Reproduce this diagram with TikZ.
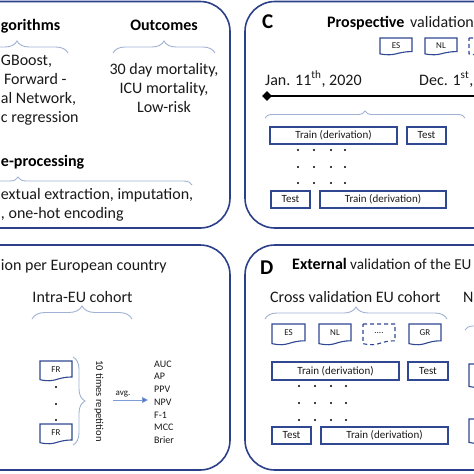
\documentclass[tikz,border=0pt]{standalone}
\usepackage{fontspec}
\setmainfont{Carlito}
\usetikzlibrary{decorations.pathreplacing,arrows.meta,shapes.geometric}
\definecolor{navy}{RGB}{44,64,138}
\definecolor{boxblue}{RGB}{47,72,145}
\definecolor{bracec}{RGB}{160,178,212}
\definecolor{arrowc}{RGB}{68,114,196}
\definecolor{txt}{RGB}{25,25,25}
\newcommand\mydoc[7]{%
 \pgfmathsetmacro\dxa{#3+#5}\pgfmathsetmacro\dyb{#4+0.8*#6}%
 \pgfmathsetmacro\dxm{#3+0.5*#5}\pgfmathsetmacro\dyc{#4+1.107*#6}%
 \pgfmathsetmacro\dyd{#4+0.934*#6}%
 \draw[#1] (#3,#4) -- (\dxa,#4) -- (\dxa,\dyb) .. controls (\dxm,\dyb) and (\dxm,\dyc) .. (#3,\dyd) -- cycle;
 \pgfmathsetmacro\dcy{#4+0.42*#6}%
 \node[doclabel] (#2) at (\dxm,\dcy) {#7};}
\begin{document}
\begin{tikzpicture}[x=1pt,y=-1pt,
  panel/.style={draw=navy,line width=1.6pt,rounded corners=30pt},
  cvbox/.style={draw=boxblue,line width=1.1pt,inner sep=0pt,text=txt,font=\fontsize{11}{13}\selectfont},
  docline/.style={draw=boxblue,line width=1.1pt},
  docdash/.style={draw=boxblue,line width=1.1pt,dash pattern=on 4pt off 3pt},
  doclabel/.style={inner sep=0pt,text=txt,font=\fontsize{9}{11}\selectfont},
  bigt/.style={inner sep=0pt,text=txt,font=\fontsize{16}{19}\selectfont},
  bigb/.style={inner sep=0pt,text=black,font=\fontsize{16}{19}\selectfont\bfseries},
  panelletter/.style={inner sep=0pt,text=black,font=\fontsize{21}{24}\selectfont\bfseries},
  metric/.style={inner sep=0pt,text=txt,font=\fontsize{10}{12}\selectfont,anchor=base west},
  bracest/.style={draw=bracec,line width=0.9pt,decorate,decoration={brace,amplitude=#1}},
  dotst/.style={fill=black}
]
\useasboundingbox (0,0) rectangle (474,474);
\fill[white] (0,0) rectangle (474,474);
\clip (0,0) rectangle (474,474);

% ---------------- Panel A (top left) ----------------
\draw[panel] (-100,1.5) rectangle (230,228);
\node[bigb,anchor=base west] (algt) at (0.8,30.5) {gorithms};
\draw[bracest=12pt] (-34,53) -- (68,53);
\node[bigt,anchor=base west] (al1) at (0.8,65) {GBoost,};
\node[bigt,anchor=base east] (al2) at (66.7,84) {Forward -};
\node[bigt,anchor=base west] (al3) at (0.8,103) {al Network,};
\node[bigt,anchor=base west] (al4) at (0.8,122) {c regression};
\node[bigb,anchor=base] (outt) at (164,30.5) {Outcomes};
\draw[bracest=12pt] (113,53) -- (215,53);
\node[bigt,anchor=base] (oc1) at (164,74) {30 day mortality,};
\node[bigt,anchor=base] (oc2) at (164,93) {ICU mortality,};
\node[bigt,anchor=base] (oc3) at (164,112) {Low-risk};
\node[bigb,anchor=base west] (pret) at (0.8,166) {e-processing};
\draw[bracest=8pt] (-156,185) -- (192,185);
\node[bigt,anchor=base west] (pr1) at (0.8,199) {extual extraction, imputation,};
\node[bigt,anchor=base west] (pr2) at (0.8,218) {, one-hot encoding};

% ---------------- Panel C (top right) ----------------
\draw[panel] (245,1.5) rectangle (620,228);
\node[panelletter,anchor=base west] (cl) at (262,28.5) {C};
\node[bigb,anchor=base west] (cpro) at (327,27) {Prospective};
\node[bigt,anchor=base west] (cval) at (410,27) {validation};
\mydoc{docline}{ces}{380}{38}{32}{17}{ES}
\mydoc{docline}{cnl}{425}{38}{32}{17}{NL}
\mydoc{docdash}{cdd}{469}{38}{32}{17}{}
\node[bigt,anchor=base west] (jan) at (265,85) {Jan. 11\textsuperscript{th}, 2020};
\node[bigt,anchor=base west] (dec) at (419,85) {Dec. 1\textsuperscript{st},};
\node[diamond,fill=black,inner sep=0pt,minimum size=10pt] (tls) at (267,96) {};
\coordinate (tle) at (480,96);
\draw[line width=1.5pt] (tls.center) -- (tle);
\draw[bracest=7pt] (265,118) -- (465,118);
\node[cvbox,minimum width=127pt,minimum height=17pt] (ctr1) at (333.5,135.5) {Train (derivation)};
\node[cvbox,minimum width=39pt,minimum height=17pt] (cte1) at (426.5,135.5) {Test};
\foreach \xx in {298,314,331,345}{\foreach \yy in {150,167,183}{\fill[dotst] (\xx,\yy) circle (1.1pt);}}
\node[cvbox,minimum width=39pt,minimum height=17pt] (cte2) at (290.5,199.5) {Test};
\node[cvbox,minimum width=126pt,minimum height=17pt] (ctr2) at (383,199.5) {Train (derivation)};

% ---------------- Panel B (bottom left) ----------------
\draw[panel] (-100,245) rectangle (230,470);
\node[bigt,anchor=base west] (bt) at (0.8,270) {ion per European country};
\node[bigt,anchor=base] (intra) at (82.5,302) {Intra-EU cohort};
\draw[bracest=13pt] (32,319) -- (132,319);
\mydoc{docline}{fr1}{40}{361}{32}{20}{FR}
\mydoc{docline}{fr2}{40}{424}{32}{20}{FR}
\foreach \yy in {387,404,420}{\fill[dotst] (56,\yy) circle (1.1pt);}
\draw[bracest=12pt] (73,357) -- (73,445);
\node[inner sep=0pt,text=txt,font=\fontsize{10.5}{12}\selectfont,rotate=-90] (rep) at (99,401) {10 times repetition};
\node[inner sep=0pt,text=txt,font=\fontsize{9}{11}\selectfont] (avg) at (123,394) {avg.};
\coordinate (arrs) at (113,400);
\coordinate (arre) at (148,400);
\draw[draw=arrowc!70,line width=0.8pt,-{Triangle[length=6pt,width=6pt,fill=arrowc]}] (arrs) -- (arre);
\node[metric] (m1) at (154,367) {AUC};
\node[metric] (m2) at (154,379.8) {AP};
\node[metric] (m3) at (154,392.5) {PPV};
\node[metric] (m4) at (154,405.3) {NPV};
\node[metric] (m5) at (154,418) {F-1};
\node[metric] (m6) at (154,430.8) {MCC};
\node[metric] (m7) at (154,443.5) {Brier};

% ---------------- Panel D (bottom right) ----------------
\draw[panel] (245,245) rectangle (620,470);
\node[panelletter,anchor=base west] (dl) at (260,274) {D};
\node[bigb,anchor=base west] (dext) at (292,269) {External};
\node[inner sep=0pt,text=txt,font=\fontsize{15.2}{18}\selectfont,anchor=base west] (dval) at (350,269) {validation of the EU};
\node[bigt,anchor=base west] (nonEU) at (463,302) {N};
\node[bigt,anchor=base west] (cross) at (270,302) {Cross validation EU cohort};
\draw[bracest=12pt] (265,319) -- (447,319);
\draw[bracest=8pt] (465,330) -- (647,330);
\mydoc{docline}{des}{272}{324}{33}{21}{ES}
\mydoc{docline}{dnl}{319}{324}{32}{21}{NL}
\mydoc{docdash}{ddd}{363}{324}{32}{21}{....}
\mydoc{docline}{dgr}{409}{324}{32}{21}{GR}
\node[cvbox,minimum width=127pt,minimum height=18pt] (dtr1) at (335.5,371) {Train (derivation)};
\node[cvbox,minimum width=40pt,minimum height=18pt] (dte1) at (428,371) {Test};
\foreach \xx in {299,315,331,346}{\foreach \yy in {386,403,420}{\fill[dotst] (\xx,\yy) circle (1.1pt);}}
\node[cvbox,minimum width=39pt,minimum height=17pt] (dte2) at (291.5,435.5) {Test};
\node[cvbox,minimum width=127pt,minimum height=17pt] (dtr2) at (384.5,435.5) {Train (derivation)};
\mydoc{docline}{dx1}{469}{364}{40}{24}{}
\mydoc{docline}{dx2}{469}{419}{40}{25}{}
\end{tikzpicture}
\end{document}
